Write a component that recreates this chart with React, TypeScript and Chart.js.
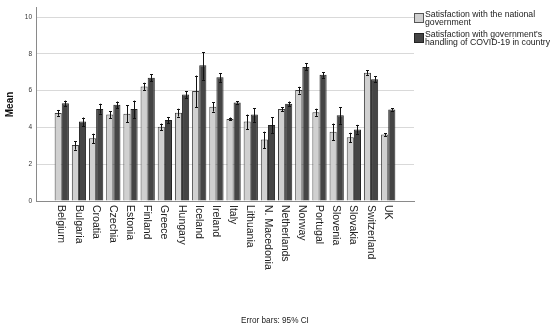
import React, { useEffect, useRef } from "react";
import { Chart, registerables, layouts } from "chart.js";

Chart.register(...registerables);

const countries = ["Belgium", "Bulgaria", "Croatia", "Czechia", "Estonia", "Finland", "Greece", "Hungary", "Iceland", "Ireland", "Italy", "Lithuania", "N. Macedonia", "Netherlands", "Norway", "Portugal", "Slovenia", "Slovakia", "Switzerland", "UK"];

const natMean = [4.79, 3.04, 3.41, 4.70, 4.75, 6.23, 4.04, 4.80, 5.98, 5.13, 4.46, 4.32, 3.34, 5.00, 6.04, 4.82, 3.77, 3.46, 6.98, 3.61];
const natLow = [4.63, 2.79, 3.13, 4.50, 4.27, 6.04, 3.84, 4.59, 5.11, 4.86, 4.39, 3.91, 2.88, 4.88, 5.84, 4.63, 3.29, 3.20, 6.86, 3.54];
const natHigh = [4.95, 3.25, 3.66, 4.88, 5.21, 6.43, 4.21, 5.02, 6.82, 5.38, 4.54, 4.70, 3.77, 5.11, 6.21, 5.02, 4.21, 3.71, 7.11, 3.68];

const covMean = [5.32, 4.32, 5.00, 5.23, 5.00, 6.70, 4.41, 5.79, 7.38, 6.73, 5.36, 4.70, 4.13, 5.29, 7.29, 6.86, 4.66, 3.89, 6.62, 4.98];
const covLow = [5.16, 4.07, 4.75, 5.04, 4.50, 6.50, 4.23, 5.59, 6.59, 6.48, 5.29, 4.30, 3.70, 5.14, 7.11, 6.70, 4.20, 3.66, 6.48, 4.91];
const covHigh = [5.46, 4.54, 5.29, 5.41, 5.46, 6.88, 4.57, 5.98, 8.09, 6.96, 5.43, 5.05, 4.55, 5.41, 7.48, 7.00, 5.09, 4.14, 6.79, 5.05];

const legendLabels = [
  ["Satisfaction with the national", "government"],
  ["Satisfaction with government's", "handling of COVID-19 in country"],
];

const yTicks = [0, 2, 4, 6, 8, 10];
const yTitle = "Mean";
const footnote = "Error bars: 95% CI";

const FONT = '"Liberation Sans", Arial, Helvetica, sans-serif';
const LIGHT = "#d0d0d0";
const LIGHT_BORDER = "#404040";
const DARK = "#454545";
const DARK_BORDER = "#222222";
const LEGEND_WIDTH = 136;

const pad = (arr: any[], v: any) => [v, ...arr, v];

const sideLegend = {
  id: "sideLegend",
  start(chart: any) {
    const box: any = {
      position: "right",
      weight: 1000,
      fullSize: false,
      options: { stackWeight: 1 },
      left: 0, top: 0, right: 0, bottom: 0, width: 0, height: 0,
      isHorizontal() { return false; },
      update(_maxWidth: number, maxHeight: number) {
        this.width = LEGEND_WIDTH;
        this.height = maxHeight;
      },
      draw() {
        const ctx = chart.ctx;
        ctx.save();
        ctx.font = `8.7px ${FONT}`;
        ctx.textAlign = "left";
        ctx.textBaseline = "alphabetic";
        const fills = [LIGHT, DARK];
        const strokes = ["#555555", DARK_BORDER];
        let baseline = this.top + 8.6;
        legendLabels.forEach((lines, i) => {
          const bx = Math.round(this.left - 0.5) + 0.5;
          const by = Math.round(baseline - 3.15) + 0.5;
          ctx.fillStyle = fills[i];
          ctx.fillRect(bx, by, 9, 9);
          ctx.strokeStyle = strokes[i];
          ctx.lineWidth = 1;
          ctx.strokeRect(bx, by, 9, 9);
          ctx.fillStyle = "#222";
          lines.forEach((l, j) => ctx.fillText(l, this.left + 11, baseline + j * 8.7));
          baseline += 2 * 8.7 + 2.6;
        });
        ctx.restore();
      },
    };
    layouts.addBox(chart, box);
    chart.$sideLegend = box;
  },
  stop(chart: any) {
    if (chart.$sideLegend) layouts.removeBox(chart, chart.$sideLegend);
  },
};

const errorBars = {
  id: "errorBars",
  afterDatasetsDraw(chart: any) {
    const ctx = chart.ctx;
    const y = chart.scales.y;
    const sets = [[natLow, natHigh], [covLow, covHigh]];
    ctx.save();
    ctx.strokeStyle = "#111";
    ctx.lineWidth = 1;
    sets.forEach((s, di) => {
      const meta = chart.getDatasetMeta(di);
      s[0].forEach((lo, i) => {
        const el = meta.data[i + 1];
        if (!el) return;
        const x = Math.round(el.x) + 0.5;
        const y1 = y.getPixelForValue(lo);
        const y2 = y.getPixelForValue(s[1][i]);
        ctx.beginPath();
        ctx.moveTo(x, y1);
        ctx.lineTo(x, y2);
        ctx.moveTo(x - 1.5, Math.round(y1) + 0.5);
        ctx.lineTo(x + 1.5, Math.round(y1) + 0.5);
        ctx.moveTo(x - 1.5, Math.round(y2) + 0.5);
        ctx.lineTo(x + 1.5, Math.round(y2) + 0.5);
        ctx.stroke();
      });
    });
    ctx.restore();
  },
};

const xLabels = {
  id: "xLabelsCW",
  afterDraw(chart: any) {
    const ctx = chart.ctx;
    const xs = chart.scales.x;
    ctx.save();
    ctx.font = `10.5px ${FONT}`;
    ctx.fillStyle = "#222";
    ctx.textAlign = "left";
    ctx.textBaseline = "middle";
    countries.forEach((c, i) => {
      const x = xs.getPixelForValue(i + 1);
      ctx.save();
      ctx.translate(x - 0.5, xs.top + 4);
      ctx.rotate(Math.PI / 2);
      ctx.fillText(c, 0, 0);
      ctx.restore();
    });
    ctx.restore();
  },
};

export default function App() {
  const ref = useRef<HTMLCanvasElement>(null);
  useEffect(() => {
    if (!ref.current) return;
    Chart.defaults.font.family = FONT;
    const chart = new Chart(ref.current, {
      type: "bar",
      data: {
        labels: pad(countries, ""),
        datasets: [
          {
            label: legendLabels[0].join(" "),
            data: pad(natMean, null),
            backgroundColor: LIGHT,
            borderColor: LIGHT_BORDER,
            borderWidth: 1,
            categoryPercentage: 0.83,
            barPercentage: 1,
          },
          {
            label: legendLabels[1].join(" "),
            data: pad(covMean, null),
            backgroundColor: DARK,
            borderColor: DARK_BORDER,
            borderWidth: 1,
            categoryPercentage: 0.83,
            barPercentage: 1,
          },
        ],
      },
      options: {
        responsive: false,
        animation: false,
        layout: { padding: { top: 5, left: 0, right: 0, bottom: 0 } },
        plugins: {
          legend: { display: false },
          tooltip: { enabled: false },
          title: { display: false },
          subtitle: {
            display: true,
            position: "bottom",
            text: footnote,
            color: "#222",
            font: { size: 8.2, family: FONT, weight: "normal" },
            padding: { top: 0, bottom: 3 },
          },
        },
        scales: {
          x: {
            offset: true,
            grid: { display: false },
            border: { display: true, color: "#8a8a8a" },
            ticks: {
              color: "rgba(0,0,0,0)",
              autoSkip: false,
              minRotation: 90,
              maxRotation: 90,
              font: { size: 10.5 },
            },
            afterFit: (s: any) => { s.height = 115.16; },
          },
          y: {
            min: 0,
            max: 10.5,
            grid: { color: "#d9d9d9", drawTicks: false },
            border: { display: true, color: "#8a8a8a" },
            ticks: {
              stepSize: 2,
              includeBounds: false,
              padding: 4,
              color: "#333",
              font: { size: 6.5 },
              callback: (v: any) => (yTicks.includes(Number(v)) ? String(v) : ""),
            },
            title: {
              display: true,
              text: yTitle,
              color: "#111",
              font: { size: 10, weight: "bold" },
              padding: { top: 4, bottom: 0 },
            },
            afterFit: (s: any) => { s.width = 36; },
          },
        },
      },
      plugins: [sideLegend, errorBars, xLabels],
    } as any);
    return () => chart.destroy();
  }, []);
  return (
    <div style={{ position: "absolute", left: 0, top: 0, width: 550, height: 329 }}>
      <canvas ref={ref} width={550} height={329} style={{ display: "block" }} />
    </div>
  );
}
